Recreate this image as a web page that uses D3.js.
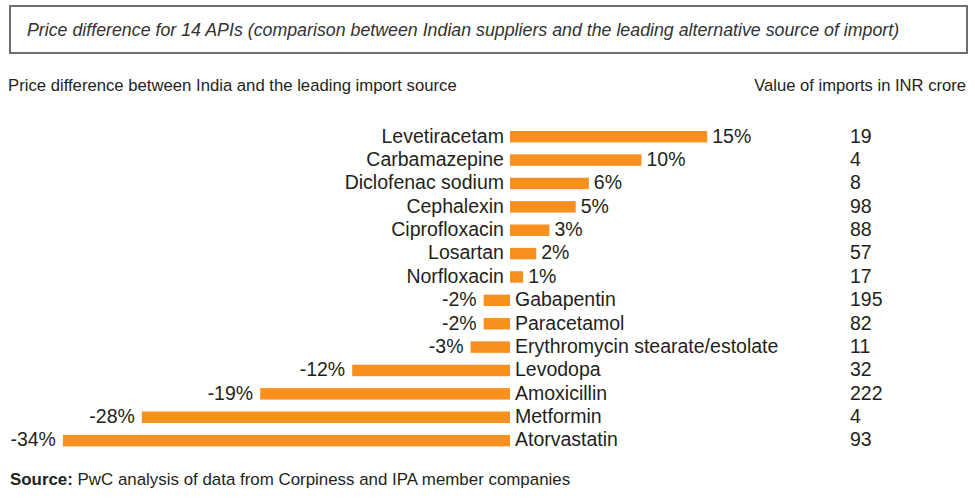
<!DOCTYPE html>
<meta charset="utf-8">
<script src="https://d3js.org/d3.v7.min.js"></script>
<style>
  body { margin: 0; background: #fff; }
  text { font-family: "Liberation Sans", Arial, Helvetica, sans-serif; fill: #231f20; }
</style>
<div id="my_dataviz"></div>
<script>

// data
var apis = ["Levetiracetam", "Carbamazepine", "Diclofenac sodium", "Cephalexin", "Ciprofloxacin",
  "Losartan", "Norfloxacin", "Gabapentin", "Paracetamol", "Erythromycin stearate/estolate",
  "Levodopa", "Amoxicillin", "Metformin", "Atorvastatin"]
var priceDiff = [15, 10, 6, 5, 3, 2, 1, -2, -2, -3, -12, -19, -28, -34]
var importValue = [19, 4, 8, 98, 88, 57, 17, 195, 82, 11, 32, 222, 4, 93]

var width = 975, height = 499

var svg = d3.select("#my_dataviz")
  .append("svg")
    .attr("width", width)
    .attr("height", height)

// title box
svg.append("rect")
  .attr("x", 10).attr("y", 6)
  .attr("width", 957).attr("height", 47)
  .attr("fill", "none")
  .attr("stroke", "#6f6f6f")
  .attr("stroke-width", 2)

svg.append("text")
  .attr("x", 27).attr("y", 36)
  .style("font-size", "17.8px")
  .style("font-style", "italic")
  .style("fill", "#333")
  .text("Price difference for 14 APIs (comparison between Indian suppliers and the leading alternative source of import)")

// column headers
svg.append("text")
  .attr("x", 8).attr("y", 91)
  .style("font-size", "16.7px")
  .text("Price difference between India and the leading import source")

svg.append("text")
  .attr("x", 966).attr("y", 91)
  .attr("text-anchor", "end")
  .style("font-size", "16.6px")
  .text("Value of imports in INR crore")

// scales
var x = d3.scaleLinear()
  .domain([-35, 15])
  .range([49.8, 707.2])

var y = d3.scaleBand()
  .domain(apis)
  .range([125, 452.3])
  .paddingInner(0.51)
  .paddingOuter(0.255)

var rows = apis.map(function(d, i) {
  return { name: d, diff: priceDiff[i], value: importValue[i] }
})

var fs = "19.5px"
var yc = function(d) { return y(d.name) + y.bandwidth() / 2 }

// bars
svg.append("g")
  .selectAll("rect")
  .data(rows)
  .enter().append("rect")
    .attr("x", function(d) { return x(Math.min(0, d.diff)) })
    .attr("y", function(d) { return y(d.name) })
    .attr("width", function(d) { return Math.abs(x(d.diff) - x(0)) })
    .attr("height", y.bandwidth())
    .attr("fill", "#f7901e")

// api names: left of zero for positive, right of zero for negative
svg.append("g")
  .selectAll("text")
  .data(rows)
  .enter().append("text")
    .attr("x", function(d) { return d.diff >= 0 ? x(0) - 6 : x(0) + 5 })
    .attr("y", yc)
    .attr("dy", "0.3em")
    .attr("text-anchor", function(d) { return d.diff >= 0 ? "end" : "start" })
    .style("font-size", fs)
    .text(function(d) { return d.name })

// percentage labels at bar ends
svg.append("g")
  .selectAll("text")
  .data(rows)
  .enter().append("text")
    .attr("x", function(d) { return d.diff >= 0 ? x(d.diff) + 5 : x(d.diff) - 7 })
    .attr("y", yc)
    .attr("dy", "0.3em")
    .attr("text-anchor", function(d) { return d.diff >= 0 ? "start" : "end" })
    .style("font-size", fs)
    .text(function(d) { return d.diff + "%" })

// import values column
svg.append("g")
  .selectAll("text")
  .data(rows)
  .enter().append("text")
    .attr("x", 850)
    .attr("y", yc)
    .attr("dy", "0.3em")
    .style("font-size", fs)
    .text(function(d) { return d.value })

// source
var src = svg.append("text")
  .attr("x", 10).attr("y", 485)
  .style("font-size", "16.9px")
src.append("tspan").style("font-weight", "bold").text("Source:")
src.append("tspan").text(" PwC analysis of data from Corpiness and IPA member companies")

</script>
